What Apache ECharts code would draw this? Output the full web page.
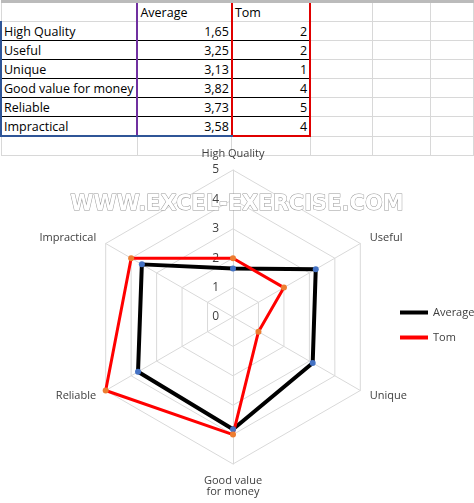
<!DOCTYPE html>
<html>
<head>
<meta charset="UTF-8" />
<script src="https://cdn.jsdelivr.net/npm/echarts@6/dist/echarts.min.js"></script>
<style>
  body { margin: 0; background: #fff; font-family: "Open Sans", "Noto Sans", sans-serif; }
  #sheet { position: absolute; left: 0; top: 0; width: 474px; height: 140px; }
  #sheet table { border-collapse: collapse; font-size: 12.5px; color: #000; }
  #sheet td { height: 18px; padding: 0 2px; border: 1px solid #d8d8d8; white-space: nowrap; }
  #chart { position: absolute; left: 0; top: 140px; width: 474px; height: 363px; }
</style>
</head>
<body>
<div id="sheet"></div>
<div id="chart"></div>
<script>
  const categories = ["High Quality", "Useful", "Unique", "Good value for money", "Reliable", "Impractical"];
  const average = [1.65, 3.25, 3.13, 3.82, 3.73, 3.58];
  const tom = [2, 2, 1, 4, 5, 4];
  const averageText = ["1,65", "3,25", "3,13", "3,82", "3,73", "3,58"];

  // spreadsheet part
  let html = '<table><tr style="border-top:3px solid #bbb">' +
    '<td style="width:131px"></td>' +
    '<td style="width:91px;border-left:2px solid #7030a0;border-right:2px solid #e00000">Average</td>' +
    '<td style="width:75px;border-right:2px solid #e00000;border-top:2px solid #e00000">Tom</td>' +
    '<td style="width:60px"></td><td style="width:57px"></td><td style="width:40px"></td></tr>';
  categories.forEach((c, i) => {
    const last = i === categories.length - 1;
    const bb = last ? "border-bottom:2px solid #2f5597;" : "border-bottom:1px solid #000;";
    html += '<tr>' +
      '<td style="border-left:2px solid #2f5597;' + bb + '">' + c + '</td>' +
      '<td style="text-align:right;border-left:2px solid #7030a0;' + bb + '">' + averageText[i] + '</td>' +
      '<td style="text-align:right;border-left:2px solid #e00000;border-right:2px solid #e00000;' +
      (last ? "border-bottom:2px solid #e00000;" : "border-bottom:1px solid #000;") + '">' + tom[i] + '</td>' +
      '<td></td><td></td><td></td></tr>';
  });
  html += '<tr><td></td><td></td><td></td><td></td><td></td><td></td></tr></table>';
  document.getElementById("sheet").innerHTML = html;

  // ECharts goes counterclockwise, so reverse after the first axis
  const order = [0, 5, 4, 3, 2, 1];
  const names = { "Good value for money": "Good value\nfor money" };

  const chart = echarts.init(document.getElementById("chart"));
  chart.setOption({
    textStyle: { fontFamily: "Open Sans" },
    legend: {
      orient: "vertical",
      left: 395,
      top: 162,
      itemWidth: 28,
      itemHeight: 4,
      itemGap: 14,
      textStyle: { fontSize: 11, color: "#404040" },
      data: [
        { name: "Average", icon: "rect", itemStyle: { color: "#000" } },
        { name: "Tom", icon: "rect", itemStyle: { color: "#ff0000" } }
      ]
    },
    graphic: [{
      type: "text",
      left: "center",
      top: 54,
      style: {
        text: "WWW.EXCEL-EXERCISE.COM",
        fill: "#fff",
        stroke: "#999",
        lineWidth: 1,
        font: "bold 21px 'DejaVu Sans'"
      },
      z: 100
    }],
    polar: { center: [233, 177], radius: 147 },
    angleAxis: { show: false, startAngle: 90, min: 0, max: 360 },
    radiusAxis: {
      min: 0, max: 5, interval: 1,
      axisLine: { show: false }, axisTick: { show: false }, splitLine: { show: false },
      axisLabel: { fontSize: 12, color: "#404040", margin: 14 }
    },
    radar: {
      center: [233, 177],
      radius: 147,
      shape: "polygon",
      splitNumber: 5,
      startAngle: 90,
      indicator: order.map(i => ({ name: names[categories[i]] || categories[i], min: 0, max: 5 })),
      axisName: { color: "#404040", fontSize: 11 },
      nameGap: 11,
      axisLine: { lineStyle: { color: "#d9d9d9" } },
      splitLine: { lineStyle: { color: "#d9d9d9" } },
      splitArea: { show: false }
    },
    series: [{
      type: "radar",
      symbol: "circle",
      symbolSize: 6,
      data: [
        {
          name: "Average",
          value: order.map(i => average[i]),
          lineStyle: { color: "#000", width: 4 },
          itemStyle: { color: "#4472c4" }
        },
        {
          name: "Tom",
          value: order.map(i => tom[i]),
          lineStyle: { color: "#ff0000", width: 3 },
          itemStyle: { color: "#ed7d31" }
        }
      ]
    }]
  });
</script>
</body>
</html>
